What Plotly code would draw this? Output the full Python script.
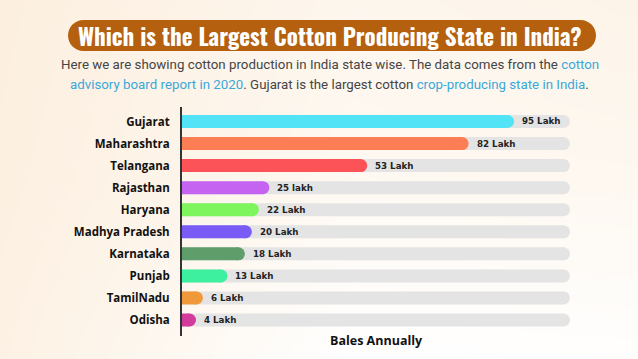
import plotly.graph_objects as go

# ---- data ----
states = ["Gujarat", "Maharashtra", "Telangana", "Rajasthan", "Haryana",
          "Madhya Pradesh", "Karnataka", "Punjab", "TamilNadu", "Odisha"]
production_lakh = [95, 82, 53, 25, 22, 20, 18, 13, 6, 4]
value_labels = ["95 Lakh", "82 Lakh", "53 Lakh", "25 lakh", "22 Lakh",
                "20 Lakh", "18 Lakh", "13 Lakh", "6 Lakh", "4 Lakh"]
bar_colors = ["#53e3f7", "#fd7d55", "#fb5357", "#c664f2", "#7ef45d",
              "#7a5bf6", "#5f9e6a", "#3df0a0", "#f0993a", "#d23a9c"]
track_max = 111

W, H = 638, 359
BAR_W = 0.59
X0_PX, X1_PX = 182, 570
Y_TOP_PX, Y_BOT_PX = 107, 336
Y_RANGE = [9.725, -0.657]

# bar thickness in pixels and the rounded-cap radius expressed in data units
px_per_cat = (Y_BOT_PX - Y_TOP_PX) / abs(Y_RANGE[0] - Y_RANGE[1])
bar_px = BAR_W * px_per_cat
cap_r_units = (bar_px / 2) * track_max / (X1_PX - X0_PX)


def px(x):
    return x / W


def py(y):
    return 1 - y / H


fig = go.Figure()

# soft background gradient
fig.add_trace(go.Heatmap(
    x=[0, 0.55, 1], y=[0, 0.5, 1],
    z=[[0.15, 1.0, 0.95], [0.05, 0.6, 0.55], [0.0, 0.45, 0.3]],
    zmin=0, zmax=1, zsmooth="best", showscale=False, hoverinfo="skip",
    colorscale=[[0, "#fcefdf"], [1, "#ffffff"]],
    xaxis="x", yaxis="y"))

track_vals = [track_max] * len(states)

# grey tracks (body + round cap)
fig.add_trace(go.Bar(
    y=states, x=[v - cap_r_units for v in track_vals], orientation="h",
    width=BAR_W, marker=dict(color="#e4e4e4", line=dict(width=0)),
    hoverinfo="skip", xaxis="x2", yaxis="y2"))
fig.add_trace(go.Scatter(
    y=states, x=[v - cap_r_units for v in track_vals], mode="markers",
    marker=dict(size=bar_px, color="#e4e4e4", line=dict(width=0)),
    hoverinfo="skip", xaxis="x2", yaxis="y2"))

# value bars (body + round cap)
fig.add_trace(go.Bar(
    y=states, x=[v - cap_r_units for v in production_lakh], orientation="h",
    width=BAR_W, marker=dict(color=bar_colors, line=dict(width=0)),
    customdata=production_lakh, hovertemplate="%{y}: %{customdata} Lakh<extra></extra>",
    xaxis="x2", yaxis="y2"))
fig.add_trace(go.Scatter(
    y=states, x=[v - cap_r_units for v in production_lakh], mode="markers",
    marker=dict(size=bar_px, color=bar_colors, line=dict(width=0)),
    hoverinfo="skip", xaxis="x2", yaxis="y2"))

annotations = []
for s, v, lab in zip(states, production_lakh, value_labels):
    annotations.append(dict(
        x=v, y=s, xref="x2", yref="y2", text=lab, showarrow=False,
        xanchor="left", yanchor="middle", xshift=6,
        font=dict(family="DejaVu Sans", size=8.7, color="#222", weight="bold")))

annotations.append(dict(
    x=px(330), y=py(35.5), xref="paper", yref="paper", showarrow=False,
    xanchor="center", yanchor="middle",
    text="<b>Which is the Largest Cotton Producing State in India?</b>",
    font=dict(family="Oswald, 'Liberation Sans Narrow', 'DejaVu Sans Condensed', sans-serif",
              size=23, color="#ffffff")))

blue = "#3aa8d9"
annotations.append(dict(
    x=px(330), y=py(65), xref="paper", yref="paper", showarrow=False,
    xanchor="center", yanchor="middle",
    text=("Here we are showing cotton production in India state wise. The data comes from the "
          f"<span style='color:{blue}'>cotton</span>"),
    font=dict(family="Roboto", size=13.3, color="#454545")))
annotations.append(dict(
    x=px(329), y=py(85), xref="paper", yref="paper", showarrow=False,
    xanchor="center", yanchor="middle",
    text=(f"<span style='color:{blue}'>advisory board report in 2020</span>"
          ". Gujarat is the largest cotton "
          f"<span style='color:{blue}'>crop-producing state in India</span>."),
    font=dict(family="Roboto", size=13.3, color="#454545")))

annotations.append(dict(
    x=px(376), y=py(340), xref="paper", yref="paper", showarrow=False,
    xanchor="center", yanchor="middle", text="<b>Bales Annually</b>",
    font=dict(family="Open Sans", size=12.5, color="#111")))


def pill_path(x0, y0, x1, y1):
    r = (y1 - y0) / 2
    k = 0.5523 * r
    cy = (y0 + y1) / 2
    pts = [
        ("M", [(x0 + r, y0)]),
        ("L", [(x1 - r, y0)]),
        ("C", [(x1 - r + k, y0), (x1, cy - k), (x1, cy)]),
        ("C", [(x1, cy + k), (x1 - r + k, y1), (x1 - r, y1)]),
        ("L", [(x0 + r, y1)]),
        ("C", [(x0 + r - k, y1), (x0, cy + k), (x0, cy)]),
        ("C", [(x0, cy - k), (x0 + r - k, y0), (x0 + r, y0)]),
    ]
    out = ""
    for cmd, ps in pts:
        out += cmd + " " + " ".join(f"{px(a):.5f},{py(b):.5f}" for a, b in ps) + " "
    return out + "Z"


shapes = [dict(type="path", xref="paper", yref="paper", layer="above",
               path=pill_path(68, 20, 596, 51),
               fillcolor="#b5600f", line=dict(width=0))]

fig.update_layout(
    width=W, height=H, autosize=False,
    margin=dict(l=0, r=0, t=0, b=0),
    paper_bgcolor="#fdf3e8", plot_bgcolor="rgba(0,0,0,0)",
    barmode="overlay", showlegend=False,
    xaxis=dict(domain=[0, 1], range=[0, 1], visible=False, fixedrange=True),
    yaxis=dict(domain=[0, 1], range=[0, 1], visible=False, fixedrange=True),
    xaxis2=dict(domain=[px(X0_PX), px(X1_PX)], range=[0, track_max], visible=False,
                anchor="y2"),
    yaxis2=dict(domain=[(H - Y_BOT_PX) / H, (H - Y_TOP_PX) / H], anchor="x2",
                categoryorder="array", categoryarray=states,
                range=Y_RANGE, showline=True, linecolor="#333",
                linewidth=2, ticks="", showgrid=False, zeroline=False,
                ticklabelstandoff=8,
                tickfont=dict(family="Open Sans", size=11.5, color="#111",
                              weight="bold")),
    annotations=annotations, shapes=shapes,
)

fig.write_html("out.html", config={"displayModeBar": False},
               post_script="document.body.style.margin='0';"
                           "document.body.style.overflow='hidden';")
